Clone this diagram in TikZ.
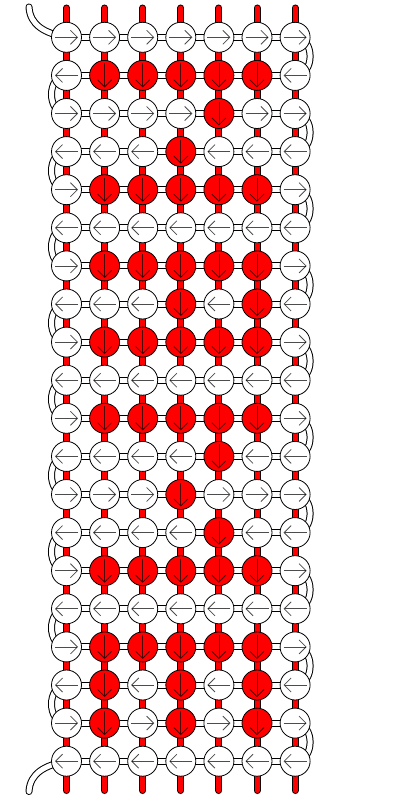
\documentclass[tikz,border=0pt]{standalone}
\usetikzlibrary{arrows.meta,backgrounds}
\begin{document}
\begin{tikzpicture}[x=1pt,y=-1pt,
 knotw/.style={circle,draw=black,fill=white,minimum size=30pt,inner sep=0pt,outer sep=0pt,line width=0.8pt},
 knotr/.style={knotw,fill=red},
 strand/.style={draw=black,line width=1pt,double distance=5pt,line cap=round},
 redstrand/.style={strand,double=red},
 whitestrand/.style={strand,double=white},
 knotarrow/.style={-{Straight Barb[length=7pt,width=14pt]},line width=0.8pt,draw=black,draw opacity=0.7}]
\useasboundingbox (0,0) rectangle (400,800);
\foreach \r/\row in {1/{0,0,0,0,0,0,0},2/{0,1,1,1,1,1,0},3/{0,0,0,0,1,0,0},4/{0,0,0,1,0,0,0},
  5/{0,1,1,1,1,1,0},6/{0,0,0,0,0,0,0},7/{0,1,1,1,1,1,0},8/{0,0,0,1,0,1,0},
  9/{0,1,1,1,1,1,0},10/{0,0,0,0,0,0,0},11/{0,1,1,1,1,1,0},12/{0,0,0,0,1,0,0},
  13/{0,0,0,1,0,0,0},14/{0,0,0,0,1,0,0},15/{0,1,1,1,1,1,0},16/{0,0,0,0,0,0,0},
  17/{0,1,1,1,1,1,0},18/{0,1,0,1,0,1,0},19/{0,1,0,1,0,1,0},20/{0,0,0,0,0,0,0}} {
  \foreach \t [count=\c] in \row {
    \pgfmathsetmacro\x{66.5+38.1*(\c-1)}
    \pgfmathsetmacro\y{37.3+38.1*(\r-1)}
    \ifnum\t=1
      \node[knotr] (n-\c-\r) at (\x,\y) {};
      \draw[knotarrow] (\x,\y-12) -- (\x,\y+12);
    \else
      \node[knotw] (n-\c-\r) at (\x,\y) {};
      \ifodd\r
        \draw[knotarrow] (\x-11.5,\y) -- (\x+11.5,\y);
      \else
        \draw[knotarrow] (\x+11.5,\y) -- (\x-11.5,\y);
      \fi
    \fi
  }
}
\begin{scope}[on background layer]
  \foreach \r in {1,...,20} {
    \foreach \c in {1,...,6} {
      \pgfmathtruncatemacro\cc{\c+1}
      \draw[whitestrand] (n-\c-\r.center) -- (n-\cc-\r.center);
    }
  }
  \foreach \r in {1,...,19} {
    \pgfmathtruncatemacro\rr{\r+1}
    \ifodd\r
      \draw[whitestrand] (n-7-\r.center) .. controls +(20,0) and +(20,0) .. (n-7-\rr.center);
    \else
      \draw[whitestrand] (n-1-\r.center) .. controls +(-20,0) and +(-20,0) .. (n-1-\rr.center);
    \fi
  }
  \coordinate (hooktop) at (29,7);
  \coordinate (hookbot) at (29,791.5);
  \draw[whitestrand] (n-1-1.center) .. controls +(-22,-4) and (30,25) .. (hooktop);
  \draw[whitestrand] (n-1-20.center) .. controls +(-22,4) and (30,773.5) .. (hookbot);
  \foreach \c in {1,...,7} {
    \pgfmathsetmacro\x{66.5+38.1*(\c-1)}
    \coordinate (top-\c) at (\x,8);
    \coordinate (bot-\c) at (\x,790.5);
    \draw[redstrand] (top-\c) -- (n-\c-1.center);
    \foreach \r in {1,...,19} {
      \pgfmathtruncatemacro\rr{\r+1}
      \draw[redstrand] (n-\c-\r.center) -- (n-\c-\rr.center);
    }
    \draw[redstrand] (n-\c-20.center) -- (bot-\c);
  }
\end{scope}
\end{tikzpicture}
\end{document}
